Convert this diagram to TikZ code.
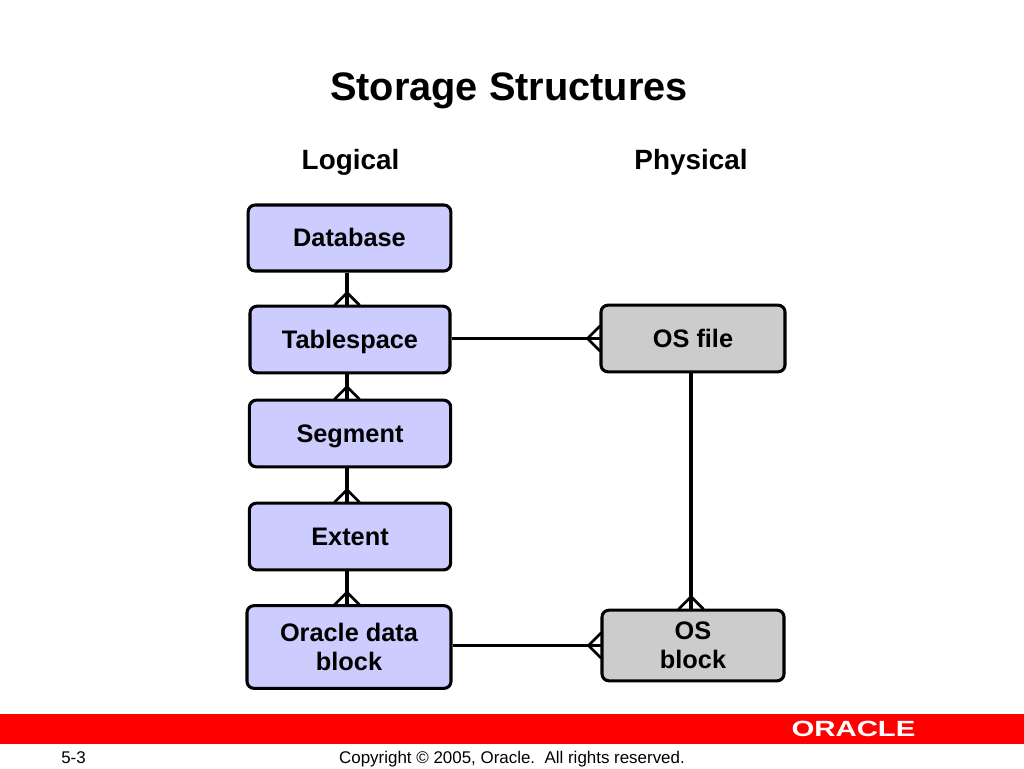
\documentclass[tikz,border=0pt]{standalone}
\usepackage{fontspec}
\setmainfont{Liberation Sans}
\usetikzlibrary{arrows.meta}

\definecolor{logical}{RGB}{204,204,255}
\definecolor{physical}{RGB}{204,204,204}
\newcommand{\pxsize}[1]{\fontsize{#1}{#1}\selectfont}

\tikzset{
	entity/.style={draw, rounded corners=5.2pt, line width=2.3pt, align=center, font=\fontsize{19}{21.75}\selectfont\bfseries, inner sep=0pt},
	oneline/.style={text height=13pt, text depth=0pt},
	logbox/.style={entity, fill=logical},
	physbox/.style={entity, fill=physical},
	heading/.style={font=\pxsize{20.9}\bfseries, text height=17pt, text depth=3.5pt},
	footer/.style={font=\pxsize{12.7}, text height=10pt, text depth=1pt},
	link/.style={line width=2.3pt},
	crow/.style={link, shorten >=-1.5pt, -{Straight Barb[reversed, length=9.5pt, width=19pt, line width=2pt]}, postaction={draw, -}},
}

\begin{document}
\begin{tikzpicture}[x=0.75pt, y=-0.75pt]
	\useasboundingbox (0,0) rectangle (1024,768);

	\node [font=\pxsize{29.8}\bfseries, text height=25pt, text depth=4.5pt] (title) at (509,87) {Storage Structures};
	\node [heading] (logical) at (350.5,160) {Logical};
	\node [heading] (physical) at (691,160) {Physical};

	\node [logbox, oneline, minimum width=152pt, minimum height=49.5pt] (DB) at (349.5,238) {Database};
	\node [logbox, oneline, minimum width=150pt, minimum height=50pt] (TS) at (350,339.5) {Tablespace};
	\node [logbox, oneline, minimum width=151pt, minimum height=50pt] (SG) at (350,433.5) {Segment};
	\node [logbox, oneline, minimum width=151pt, minimum height=50pt] (EX) at (350,536.5) {Extent};
	\node [logbox, minimum width=153pt, minimum height=62pt] (BL) at (349,647) {Oracle data\\block};
	\node [physbox, oneline, minimum width=138pt, minimum height=50pt] (OF) at (693,338.5) {OS file};
	\node [physbox, minimum width=136.5pt, minimum height=53pt] (OB) at (693,645.5) {OS\\block};

	\coordinate (L) at (347,0);
	\coordinate (R) at (691,0);
	\coordinate (A) at (0,338.5);
	\coordinate (B) at (0,645.5);

	\draw [crow] (L |- DB.south) to (L |- TS.north);
	\draw [crow] (L |- TS.south) to (L |- SG.north);
	\draw [crow] (L |- SG.south) to (L |- EX.north);
	\draw [crow] (L |- EX.south) to (L |- BL.north);
	\draw [crow] (R |- OF.south) to (R |- OB.north);
	\draw [crow] (TS.east |- A) to (OF.west |- A);
	\draw [crow] (BL.east |- B) to (OB.west |- B);

	\fill [red] (0,714) rectangle (1024,744);
	\node [white, font=\pxsize{16.5}\bfseries, xscale=1.335] (logo) at (853.5,728.5) {ORACLE};

	\node [footer] (page) at (73.5,757) {5-3};
	\node [footer] (copyright) at (512,757) {Copyright © 2005, Oracle.\ \ All rights reserved.};
\end{tikzpicture}
\end{document}
